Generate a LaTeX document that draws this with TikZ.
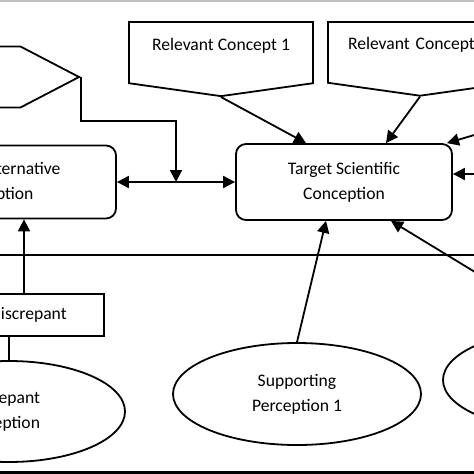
\documentclass[tikz,border=0pt]{standalone}
\usepackage{fontspec}
\setmainfont{Carlito}
\usetikzlibrary{shapes.symbols,arrows.meta,calc}
\tikzset {
konzept/.style={shape=signal,signal to=south,signal from=nowhere,signal pointer angle=164,draw,fill=white,minimum width=184pt,minimum height=71pt,inner sep=0pt,text height=12pt,text depth=17pt,anchor=north},
auffassung/.style={shape=rectangle,rounded corners=10pt,draw,minimum height=76pt,inner sep=0pt},
wahrnehmung/.style={shape=ellipse,draw,minimum width=248pt,minimum height=102pt,inner sep=0pt}
}
\usetikzlibrary{shapes.geometric}
\begin{document}
\begin{tikzpicture}
[>={Triangle[length=12pt,width=12pt]},x=1pt,y=-1pt,line width=1.8pt,every node/.style={font=\fontsize{17.6}{25}\selectfont,align=center}]
\useasboundingbox (0,0) rectangle (474,474);
\clip (0,0) rectangle (474,474);
\fill[black!25] (0,0) rectangle (474,2);
\fill (0,471) rectangle (474,474);
\node[shape=signal,signal to=east,signal from=west,signal pointer angle=55,draw,minimum width=160pt,minimum height=61pt,anchor=east] (bruecke) at (81,77) {};
\node[konzept] (konzept eins) at (221,21) {Relevant Concept 1};
\node[konzept,text width=144pt,align=left] (konzept zwei) at (420,21) {Relevant Concept};
\node[auffassung,minimum width=216pt] (ziel) at (344,182) {Target Scientific\\Conception};
\node[auffassung,minimum width=184pt,minimum height=73pt,text width=56pt,align=left] (alternativ) at (24,182) {ternative\\ption};
\node[shape=rectangle,draw,minimum width=120pt,minimum height=42pt,inner sep=0pt,text width=86pt,align=left] (diskrepanz) at (44,315) {iscrepant};
\node[wahrnehmung,minimum width=232pt,minimum height=101pt,text width=62pt,align=right] (diskrepant) at (9,411.5) {epant\\eption};
\node[wahrnehmung] (stuetze eins) at (297,394) {Supporting\\Perception 1};
\node[wahrnehmung] (stuetze zwei) at (567,380) {};
\coordinate (konzept drei) at (619,92);
\coordinate (rechts) at (520,174);

\draw (0,255) -- (474,255);
\draw[<->] (alternativ) -- (ziel);
\draw[->] (bruecke.east) -- ++(0,44) -| ($(alternativ.east)!0.5!(ziel.west)$);
\draw[->] (konzept eins.south) -- ([xshift=-38pt]ziel.north);
\draw[->] (konzept zwei.south) -- ([xshift=42pt]ziel.north);
\draw[->] (konzept drei) -- ([xshift=103pt]ziel.north);
\draw[->] (rechts) -- ([yshift=8pt]ziel.east);
\draw[->] (stuetze eins.north) -- ([xshift=-18pt]ziel.south);
\draw[->] (stuetze zwei.north) -- ([xshift=47pt]ziel.south);
\draw[->] (diskrepanz.north -| alternativ.south) -- (alternativ.south);
\draw (diskrepanz.south -| diskrepant.north) -- (diskrepant.north);
\end{tikzpicture}
\end{document}
